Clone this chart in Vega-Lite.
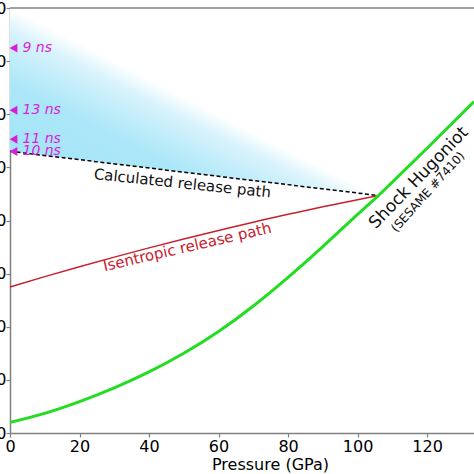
{
  "$schema": "https://vega.github.io/schema/vega-lite/v6.json",
  "width": 464,
  "height": 425,
  "autosize": {"type": "none"},
  "padding": {"left": 10, "top": 8, "right": 0, "bottom": 41},
  "config": {
    "view": {"stroke": null},
    "font": "DejaVu Sans",
    "axis": {
      "domainColor": "#808080",
      "domainWidth": 1.5,
      "tickColor": "#808080",
      "tickWidth": 1.2,
      "tickSize": 4,
      "labelFont": "DejaVu Sans",
      "labelFontSize": 16,
      "labelColor": "#000000",
      "titleFont": "DejaVu Sans",
      "titleFontSize": 16,
      "titleFontWeight": "normal",
      "titleColor": "#000000",
      "grid": false
    }
  },
  "datasets": {
    "band": [
      {"P": 0, "lo": 5302, "hi": 8000},
      {"P": 106, "lo": 4470, "hi": 4470}
    ],
    "calc": [
      {"P": 0, "T": 5302},
      {"P": 106, "T": 4470}
    ],
    "isen": [
      {"P": 0, "T": 2750},
      {"P": 10, "T": 2943},
      {"P": 20, "T": 3130},
      {"P": 30, "T": 3311},
      {"P": 40, "T": 3485},
      {"P": 50, "T": 3652},
      {"P": 60, "T": 3813},
      {"P": 70, "T": 3968},
      {"P": 80, "T": 4116},
      {"P": 90, "T": 4257},
      {"P": 100, "T": 4392},
      {"P": 106, "T": 4470}
    ],
    "hug": [
      {"P": 0, "T": 200},
      {"P": 10, "T": 370},
      {"P": 20, "T": 590},
      {"P": 30, "T": 850},
      {"P": 40, "T": 1150},
      {"P": 50, "T": 1500},
      {"P": 60, "T": 1910},
      {"P": 70, "T": 2390},
      {"P": 80, "T": 2930},
      {"P": 90, "T": 3510},
      {"P": 100, "T": 4115},
      {"P": 106, "T": 4470},
      {"P": 110, "T": 4722},
      {"P": 120, "T": 5360},
      {"P": 133.5, "T": 6237}
    ],
    "marks": [
      {"P": 1.0, "T": 7245, "label": "9 ns"},
      {"P": 1.0, "T": 6075, "label": "13 ns"},
      {"P": 1.0, "T": 5530, "label": "11 ns"},
      {"P": 1.0, "T": 5300, "label": "10 ns"}
    ],
    "calcnote": [{"P": 49.6, "T": 4700, "text": "Calculated release path"}],
    "isennote": [{"P": 51, "T": 3503, "text": "Isentropic release path"}],
    "hugnote": [{"P": 117.6, "T": 4802, "text": "Shock Hugoniot"}],
    "sesnote": [{"P": 120.2, "T": 4539, "text": "(SESAME #7410)"}]
  },
  "encoding": {
    "x": {
      "field": "P",
      "type": "quantitative",
      "scale": {"domain": [0, 133.5], "nice": false, "zero": false},
      "axis": {"values": [0, 20, 40, 60, 80, 100, 120], "title": "Pressure (GPa)", "labelPadding": 1, "titlePadding": 2, "titleX": 260, "labelFlush": false}
    }
  },
  "layer": [
    {
      "data": {"name": "band"},
      "mark": {
        "type": "area",
        "fill": {
          "gradient": "linear",
          "x1": 0, "y1": 1, "x2": 0.5, "y2": 0.5,
          "stops": [
            {"offset": 0, "color": "#9fe2f7"},
            {"offset": 0.6, "color": "#abe7f8"},
            {"offset": 0.88, "color": "#d8f3fc"},
            {"offset": 1, "color": "#ffffff"}
          ]
        }
      },
      "encoding": {
        "y": {"field": "lo", "type": "quantitative", "scale": {"domain": [0, 8000], "nice": false}, "axis": {"values": [0, 1000, 2000, 3000, 4000, 5000, 6000, 7000, 8000], "title": null, "labelPadding": 0}},
        "y2": {"field": "hi"}
      }
    },
    {
      "data": {"name": "calc"},
      "mark": {"type": "line", "color": "#000000", "strokeWidth": 1.5, "strokeDash": [4, 2.5]},
      "encoding": {"y": {"field": "T", "type": "quantitative"}}
    },
    {
      "data": {"name": "isen"},
      "mark": {"type": "line", "color": "#c8202c", "strokeWidth": 1.5, "interpolate": "natural"},
      "encoding": {"y": {"field": "T", "type": "quantitative"}}
    },
    {
      "data": {"name": "hug"},
      "mark": {"type": "line", "color": "#22dd22", "strokeWidth": 3, "interpolate": "natural"},
      "encoding": {"y": {"field": "T", "type": "quantitative"}}
    },
    {
      "data": {"values": [{"T": 8000}]},
      "mark": {"type": "rule", "color": "#808080", "strokeWidth": 1.5},
      "encoding": {"y": {"field": "T", "type": "quantitative"}, "x": {"value": 0}, "x2": {"value": 464}}
    },
    {
      "data": {"name": "marks"},
      "mark": {"type": "point", "shape": "triangle-left", "filled": true, "color": "#d81fd8", "size": 80, "opacity": 1},
      "encoding": {"y": {"field": "T", "type": "quantitative"}}
    },
    {
      "data": {"name": "marks"},
      "mark": {"type": "text", "align": "left", "baseline": "middle", "dx": 9, "fontSize": 14, "fontStyle": "italic", "color": "#d81fd8"},
      "encoding": {"y": {"field": "T", "type": "quantitative"}, "text": {"field": "label"}}
    },
    {
      "data": {"name": "calcnote"},
      "mark": {"type": "text", "align": "center", "baseline": "middle", "angle": 6, "fontSize": 15, "color": "#111111"},
      "encoding": {"y": {"field": "T", "type": "quantitative"}, "text": {"field": "text"}}
    },
    {
      "data": {"name": "isennote"},
      "mark": {"type": "text", "align": "center", "baseline": "middle", "angle": 347, "fontSize": 15, "color": "#c8202c"},
      "encoding": {"y": {"field": "T", "type": "quantitative"}, "text": {"field": "text"}}
    },
    {
      "data": {"name": "hugnote"},
      "mark": {"type": "text", "align": "center", "baseline": "middle", "angle": 314, "fontSize": 17, "color": "#111111"},
      "encoding": {"y": {"field": "T", "type": "quantitative"}, "text": {"field": "text"}}
    },
    {
      "data": {"name": "sesnote"},
      "mark": {"type": "text", "align": "center", "baseline": "middle", "angle": 312, "fontSize": 12, "color": "#111111"},
      "encoding": {"y": {"field": "T", "type": "quantitative"}, "text": {"field": "text"}}
    }
  ]
}
